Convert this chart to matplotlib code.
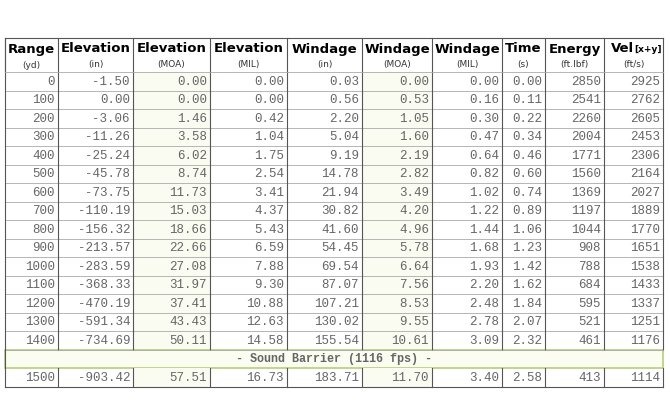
import matplotlib.pyplot as plt
from matplotlib.patches import Rectangle

headers = ['Range', 'Elevation', 'Elevation', 'Elevation', 'Windage', 'Windage', 'Windage', 'Time', 'Energy', 'Vel']
units = ['(yd)', '(in)', '(MOA)', '(MIL)', '(in)', '(MOA)', '(MIL)', '(s)', '(ft.lbf)', '(ft/s)']

ranges = [0, 100, 200, 300, 400, 500, 600, 700, 800, 900, 1000, 1100, 1200, 1300, 1400, 1500]
elev_in = [-1.50, 0.00, -3.06, -11.26, -25.24, -45.78, -73.75, -110.19, -156.32, -213.57,
           -283.59, -368.33, -470.19, -591.34, -734.69, -903.42]
elev_moa = [0.00, 0.00, 1.46, 3.58, 6.02, 8.74, 11.73, 15.03, 18.66, 22.66,
            27.08, 31.97, 37.41, 43.43, 50.11, 57.51]
elev_mil = [0.00, 0.00, 0.42, 1.04, 1.75, 2.54, 3.41, 4.37, 5.43, 6.59,
            7.88, 9.30, 10.88, 12.63, 14.58, 16.73]
wind_in = [0.03, 0.56, 2.20, 5.04, 9.19, 14.78, 21.94, 30.82, 41.60, 54.45,
           69.54, 87.07, 107.21, 130.02, 155.54, 183.71]
wind_moa = [0.00, 0.53, 1.05, 1.60, 2.19, 2.82, 3.49, 4.20, 4.96, 5.78,
            6.64, 7.56, 8.53, 9.55, 10.61, 11.70]
wind_mil = [0.00, 0.16, 0.30, 0.47, 0.64, 0.82, 1.02, 1.22, 1.44, 1.68,
            1.93, 2.20, 2.48, 2.78, 3.09, 3.40]
time_s = [0.00, 0.11, 0.22, 0.34, 0.46, 0.60, 0.74, 0.89, 1.06, 1.23,
          1.42, 1.62, 1.84, 2.07, 2.32, 2.58]
energy = [2850, 2541, 2260, 2004, 1771, 1560, 1369, 1197, 1044, 908,
          788, 684, 595, 521, 461, 413]
velocity = [2925, 2762, 2605, 2453, 2306, 2164, 2027, 1889, 1770, 1651,
            1538, 1433, 1337, 1251, 1176, 1114]
barrier_text = '- Sound Barrier (1116 fps) -'

edges = [5, 58, 133, 210, 287, 362, 432, 502, 545, 604, 663]
top, head_h, unit_h, row_h = 38, 20, 14, 18.5

fig = plt.figure(figsize=(6.7, 4.2), dpi=100)
ax = fig.add_axes([0, 0, 1, 1])
ax.set_xlim(0, 670)
ax.set_ylim(420, 0)
ax.axis('off')

mono = 'Liberation Mono'
grey = '#666666'
border = '#555555'

# header
y0 = top
for i, (h, u) in enumerate(zip(headers, units)):
    xc = (edges[i] + edges[i + 1]) / 2
    if h == 'Vel':
        ax.text(xc + 1, y0 + head_h / 2 + 1, 'Vel', ha='right', va='center', fontsize=9.5, fontweight='bold')
        ax.text(xc + 1, y0 + head_h / 2 + 2, '[x+y]', ha='left', va='center', fontsize=6.5, fontweight='bold')
    else:
        ax.text(xc, y0 + head_h / 2 + 1, h, ha='center', va='center', fontsize=9.5, fontweight='bold')
    ax.text(xc, y0 + head_h + unit_h / 2, u, ha='center', va='center', fontsize=6.5, color='#333333')

cols = [ranges, elev_in, elev_moa, elev_mil, wind_in, wind_moa, wind_mil, time_s, energy, velocity]
fmts = ['{:d}', '{:.2f}', '{:.2f}', '{:.2f}', '{:.2f}', '{:.2f}', '{:.2f}', '{:.2f}', '{:d}', '{:d}']
tinted = {2, 5}

y = top + head_h + unit_h
for r in range(len(ranges)):
    if r == len(ranges) - 1:
        ax.add_patch(Rectangle((edges[0], y), edges[-1] - edges[0], row_h,
                               facecolor='#fbfdf0', edgecolor='#b5cf7a', lw=1.2))
        ax.text((edges[0] + edges[-1]) / 2, y + row_h / 2, barrier_text, ha='center', va='center',
                fontsize=8.5, family=mono, color=grey, fontweight='bold')
        y += row_h
    for c in range(len(cols)):
        if c in tinted:
            ax.add_patch(Rectangle((edges[c], y), edges[c + 1] - edges[c], row_h,
                                   facecolor='#fafcf2', edgecolor='none'))
        ax.text(edges[c + 1] - 3, y + row_h / 2 + 0.5, fmts[c].format(cols[c][r]), ha='right',
                va='center', fontsize=9, family=mono, color=grey)
        ax.plot([edges[c + 1]] * 2, [y, y + row_h], color=border, lw=0.8)
    ax.plot([edges[0], edges[-1]], [y + row_h] * 2, color='#aaaaaa', lw=0.6)
    y += row_h

bottom = y
for e in edges:
    ax.plot([e, e], [top, top + head_h + unit_h], color=border, lw=0.8)
ax.plot([edges[0]] * 2, [top, bottom], color=border, lw=0.8)
ax.plot([edges[0], edges[-1]], [top, top], color=border, lw=0.8)
ax.plot([edges[0], edges[-1]], [top + head_h + unit_h] * 2, color='#aaaaaa', lw=0.6)
ax.plot([edges[0], edges[-1]], [bottom, bottom], color=border, lw=0.8)

fig.savefig('out.png', dpi=100)
